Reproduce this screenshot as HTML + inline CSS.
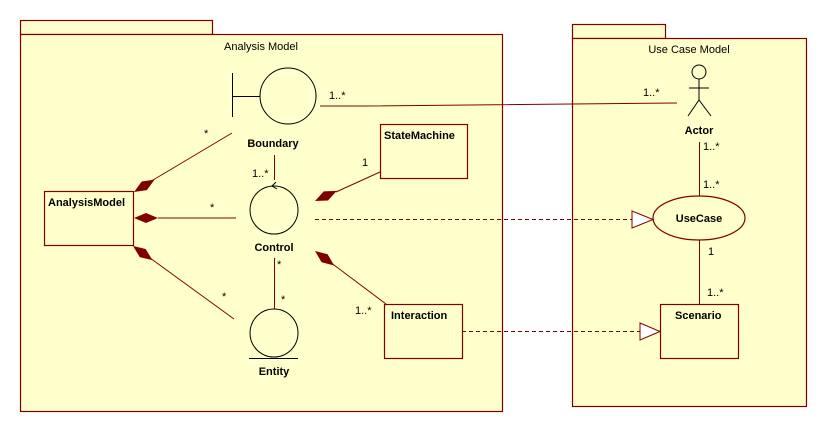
<!DOCTYPE html>
<html><head><style>body{margin:0;background:#fff}svg{display:block}text{font-family:"Liberation Sans",sans-serif;font-size:11px;fill:#000}.b{font-weight:bold;font-size:11px}</style></head><body>
<svg width="827" height="432" viewBox="0 0 827 432" xmlns="http://www.w3.org/2000/svg">
<defs><polygon id="d" points="0,0 -12,-5 -24,0 -12,5" fill="#800000"/></defs>
<g fill="#ffffcc" stroke="#800000" stroke-width="1.2">
<rect x="20.5" y="20.5" width="192" height="14"/>
<rect x="20.5" y="34.5" width="482" height="377"/>
<rect x="572.5" y="24.5" width="93" height="14"/>
<rect x="572.5" y="38.5" width="234" height="368"/>
<rect x="44.5" y="191.5" width="89" height="54"/>
<rect x="380.5" y="124.5" width="87" height="54"/>
<rect x="384.5" y="304.5" width="78" height="54"/>
<rect x="660.5" y="304.5" width="78" height="54"/>
<ellipse cx="699" cy="218" rx="46" ry="22"/>
</g>
<text x="261" y="50" text-anchor="middle">Analysis Model</text>
<text x="689" y="53" text-anchor="middle">Use Case Model</text>
<g fill="none" stroke="#000" stroke-width="1">
<line x1="232.5" y1="73" x2="232.5" y2="117"/><line x1="232" y1="96.5" x2="260" y2="96.5"/>
<circle cx="288" cy="96" r="28"/>
<circle cx="274" cy="210" r="24"/><path d="M276,182 L272,186 L277,189"/>
<circle cx="274" cy="333" r="24"/><line x1="249" y1="358.5" x2="298" y2="358.5"/>
<circle cx="699" cy="72" r="7"/><line x1="699" y1="79" x2="699" y2="100"/><line x1="689" y1="88" x2="709" y2="88"/><path d="M688,116 L699,100 L711,116"/>
</g>
<g stroke="#800000" stroke-width="1" fill="none">
<polyline points="320,106 363,106 677,103"/>
<line x1="232" y1="133" x2="148" y2="183"/>
<line x1="236" y1="218" x2="158" y2="218"/>
<line x1="234" y1="319" x2="150" y2="258"/>
<line x1="274.5" y1="155" x2="274.5" y2="180"/>
<line x1="274.5" y1="258" x2="274.5" y2="309"/>
<line x1="380" y1="172" x2="336" y2="192"/>
<line x1="386" y1="304" x2="330" y2="262"/>
<line x1="699.5" y1="142" x2="699.5" y2="196"/>
<line x1="699.5" y1="240" x2="699.5" y2="304"/>
<line x1="315" y1="219.5" x2="632" y2="219.5" stroke-dasharray="4,3"/>
<line x1="462" y1="331.5" x2="640" y2="331.5" stroke-dasharray="4,3"/>
<polygon points="632,211 653,219.5 632,228" fill="#fff"/>
<polygon points="640,323 660,331.5 640,340" fill="#fff"/>
</g>
<use href="#d" transform="translate(134,192) rotate(-31) scale(-1,1)"/>
<use href="#d" transform="translate(134,218) scale(-1,1)"/>
<use href="#d" transform="translate(133,246) rotate(36) scale(-1,1)"/>
<use href="#d" transform="translate(315,201) rotate(-25) scale(-1,1)"/>
<use href="#d" transform="translate(315,251) rotate(37) scale(-1,1)"/>
<text class="b" x="273" y="147" text-anchor="middle">Boundary</text>
<text class="b" x="274" y="251" text-anchor="middle">Control</text>
<text class="b" x="274" y="375" text-anchor="middle">Entity</text>
<text class="b" x="48" y="206">AnalysisModel</text>
<text class="b" x="384" y="139">StateMachine</text>
<text class="b" x="391" y="319">Interaction</text>
<text class="b" x="675" y="319">Scenario</text>
<text class="b" x="699" y="222" text-anchor="middle">UseCase</text>
<text class="b" x="699" y="134" text-anchor="middle">Actor</text>
<text x="329" y="99">1..*</text>
<text x="643" y="96">1..*</text>
<text x="204" y="137">*</text>
<text x="252" y="177">1..*</text>
<text x="362" y="166">1</text>
<text x="210" y="211">*</text>
<text x="277" y="268">*</text>
<text x="222" y="300">*</text>
<text x="281" y="303">*</text>
<text x="355" y="314">1..*</text>
<text x="703" y="150">1..*</text>
<text x="703" y="188">1..*</text>
<text x="708" y="255">1</text>
<text x="707" y="296">1..*</text>
</svg>
</body></html>
